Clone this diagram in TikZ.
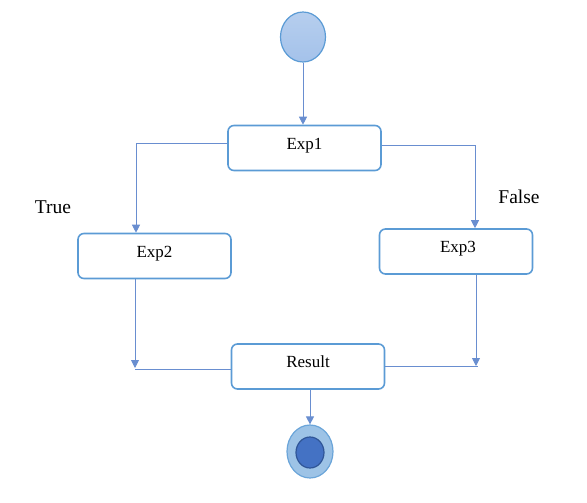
\documentclass[tikz,border=0pt]{standalone}
\usepackage{fontspec}
\setmainfont{Liberation Serif}
\usetikzlibrary{arrows.meta,shapes.geometric}
\definecolor{boxline}{HTML}{5B9BD5}
\definecolor{arrowc}{HTML}{4472C4}
\definecolor{startfill}{HTML}{A4C2EA}
\definecolor{endouter}{HTML}{9DC3E6}
\definecolor{endinner}{HTML}{4472C4}
\definecolor{enddark}{HTML}{2F5597}
\tikzset{
  stepbox/.style={draw=boxline, line width=1.6pt, rounded corners=6pt, fill=white,
    minimum width=153pt, minimum height=45pt, inner sep=0pt, font=\fontsize{17}{19}\selectfont},
  conn/.style={draw=arrowc!80, line width=0.9pt},
  arr/.style={conn, -{Triangle[length=8pt,width=8pt]}},
  lbl/.style={font=\fontsize{19.5}{22}\selectfont, inner sep=0pt}
}
\newcommand{\uptext}[1]{\raisebox{9pt}{#1}}
\begin{document}
\begin{tikzpicture}[x=1pt,y=-1pt]
\useasboundingbox (0,0) rectangle (587,503);
\node[ellipse, draw=boxline, line width=1.2pt, top color=startfill!80!white, bottom color=startfill, minimum width=45pt, minimum height=50pt, inner sep=0pt] (start) at (303,37) {};
\node[stepbox] (exp1) at (304.5,148) {\uptext{Exp1}};
\node[stepbox] (exp2) at (154.5,256) {\uptext{Exp2}};
\node[stepbox] (exp3) at (456,251.5) {\hspace*{4pt}\uptext{Exp3}};
\node[stepbox] (result) at (308,366.5) {\uptext{Result}};
\node[lbl] (true) at (53,207) {True};
\node[lbl] (false) at (519,197) {False};
\node[ellipse, draw=boxline!90, line width=1.2pt, fill=endouter, minimum width=46pt, minimum height=53pt, inner sep=0pt] (endo) at (310,451.5) {};
\node[ellipse, draw=enddark, line width=1.2pt, fill=endinner, minimum width=28pt, minimum height=31pt, inner sep=0pt] (endi) at (310,452.5) {};
\coordinate (l1) at (136,143);
\coordinate (r1) at (475,145);
\coordinate (lc) at (135,369);
\coordinate (rc) at (478,366);
\coordinate (la) at (135,368);
\coordinate (ra) at (476,366);
% start to exp1
\draw[arr] (start.south) -- (start.south |- exp1.north);
% exp1 to exp2
\draw[conn] (exp1.west |- l1) -- (l1);
\draw[arr] (l1) -- (l1 |- exp2.north);
% exp1 to exp3
\draw[conn] (exp1.east |- r1) -- (r1);
\draw[arr] (r1) -- (r1 |- exp3.north);
% exp2 down
\draw[arr] (exp2.south -| la) -- (la);
\draw[conn] (result.west |- lc) -- (lc);
% exp3 down
\draw[arr] (exp3.south -| ra) -- (ra);
\draw[conn] (result.east |- rc) -- (rc);
% result to end
\draw[arr] (result.south -| endo) -- (endo.north);
\end{tikzpicture}
\end{document}
